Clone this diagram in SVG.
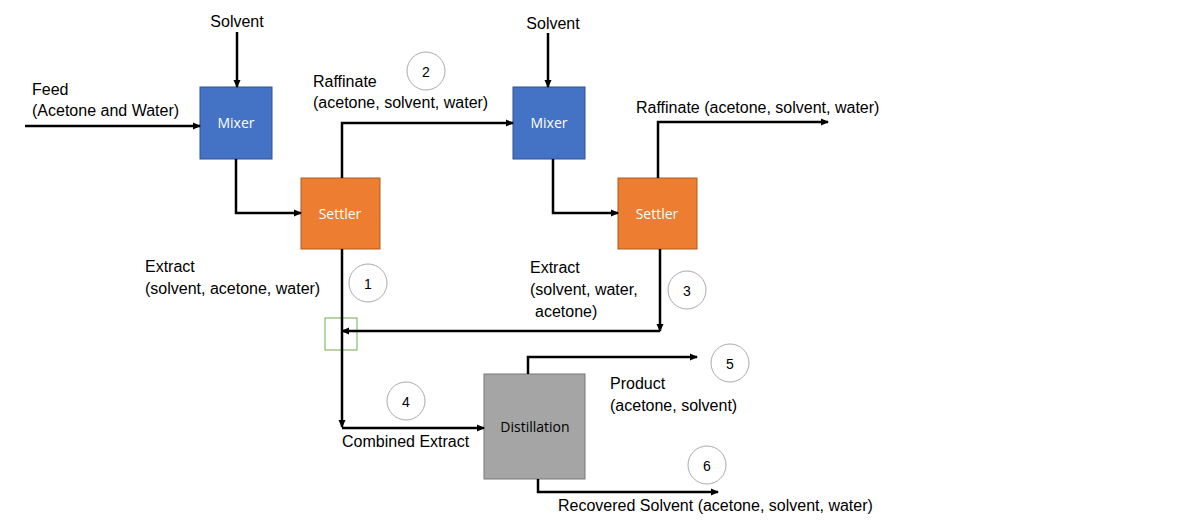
<svg xmlns="http://www.w3.org/2000/svg" width="1181" height="530" viewBox="0 0 1181 530">
<style>
text{font-family:"Liberation Sans",Arial,sans-serif;font-size:16px;fill:#000}
.b{font-family:"Open Sans","Liberation Sans",sans-serif;font-size:14px;fill:#fff}
.c{fill:#fff;stroke:#aaa;stroke-width:1}
.l{fill:none;stroke:#000;stroke-width:2.5;marker-end:url(#a)}
</style>
<defs><marker id="a" markerWidth="8" markerHeight="8" refX="7" refY="4" orient="auto" markerUnits="userSpaceOnUse"><path d="M0,0.5L8,4L0,7.5z" fill="#000"/></marker></defs>
<rect width="1181" height="530" fill="#fff"/>
<g id="mixer1"><rect x="200" y="87" width="72" height="72" fill="#4472c4" stroke="#2f528f"/><text class="b" x="236" y="128" text-anchor="middle">Mixer</text></g>
<g id="settler1"><rect x="301" y="178" width="79" height="71" fill="#ed7d31" stroke="#ae5a21"/><text class="b" x="340" y="219" text-anchor="middle">Settler</text></g>
<g id="mixer2"><rect x="513" y="87" width="72" height="72" fill="#4472c4" stroke="#2f528f"/><text class="b" x="549" y="128" text-anchor="middle">Mixer</text></g>
<g id="settler2"><rect x="618" y="178" width="79" height="71" fill="#ed7d31" stroke="#ae5a21"/><text class="b" x="657" y="219" text-anchor="middle">Settler</text></g>
<g id="distillation"><rect x="484" y="374" width="101" height="105" fill="#a5a5a5" stroke="#787878"/><text class="b" x="535" y="432" text-anchor="middle" fill="#000" style="fill:#000">Distillation</text></g>
<g id="mix"><rect x="325" y="318" width="32" height="32" fill="none" stroke="#70ad47"/></g>
<g id="connectors">
<path class="l" d="M25,126H200"/>
<path class="l" d="M237,32V87"/>
<path class="l" d="M236,159V213H301"/>
<path class="l" d="M342,178V123H513"/>
<path class="l" d="M342,249V427"/>
<path class="l" d="M342,428H484"/>
<path class="l" d="M660,249V331"/>
<path class="l" d="M660,331H342"/>
<path class="l" d="M548,33V87"/>
<path class="l" d="M553,159V213H618"/>
<path class="l" d="M658,178V122H828"/>
<path class="l" d="M528,374V357H697"/>
<path class="l" d="M538,479V492H718"/>
</g>
<g id="labels">
<text x="237" y="27" text-anchor="middle">Solvent</text>
<text x="553" y="29" text-anchor="middle">Solvent</text>
<text x="32" y="95">Feed</text>
<text x="32" y="116">(Acetone and Water)</text>
<text x="313" y="87">Raffinate</text>
<text x="313" y="108">(acetone, solvent, water)</text>
<text x="636" y="113">Raffinate (acetone, solvent, water)</text>
<text x="145" y="272">Extract</text>
<text x="145" y="294">(solvent, acetone, water)</text>
<text x="530" y="273">Extract</text>
<text x="530" y="295">(solvent, water,</text>
<text x="535" y="317">acetone)</text>
<text x="610" y="389">Product</text>
<text x="610" y="411">(acetone, solvent)</text>
<text x="342" y="447">Combined Extract</text>
<text x="558" y="511">Recovered Solvent (acetone, solvent, water)</text>
</g>
<g id="numbers">
<circle class="c" cx="368" cy="283" r="19"/><text x="368" y="289" text-anchor="middle" font-size="14" style="font-size:14px">1</text>
<circle class="c" cx="426" cy="71" r="19"/><text x="426" y="77" text-anchor="middle" style="font-size:14px">2</text>
<circle class="c" cx="687" cy="290" r="19"/><text x="687" y="296" text-anchor="middle" style="font-size:14px">3</text>
<circle class="c" cx="406" cy="401" r="19"/><text x="406" y="407" text-anchor="middle" style="font-size:14px">4</text>
<circle class="c" cx="730" cy="363" r="19"/><text x="730" y="369" text-anchor="middle" style="font-size:14px">5</text>
<circle class="c" cx="707" cy="465" r="19"/><text x="707" y="471" text-anchor="middle" style="font-size:14px">6</text>
</g>
</svg>
